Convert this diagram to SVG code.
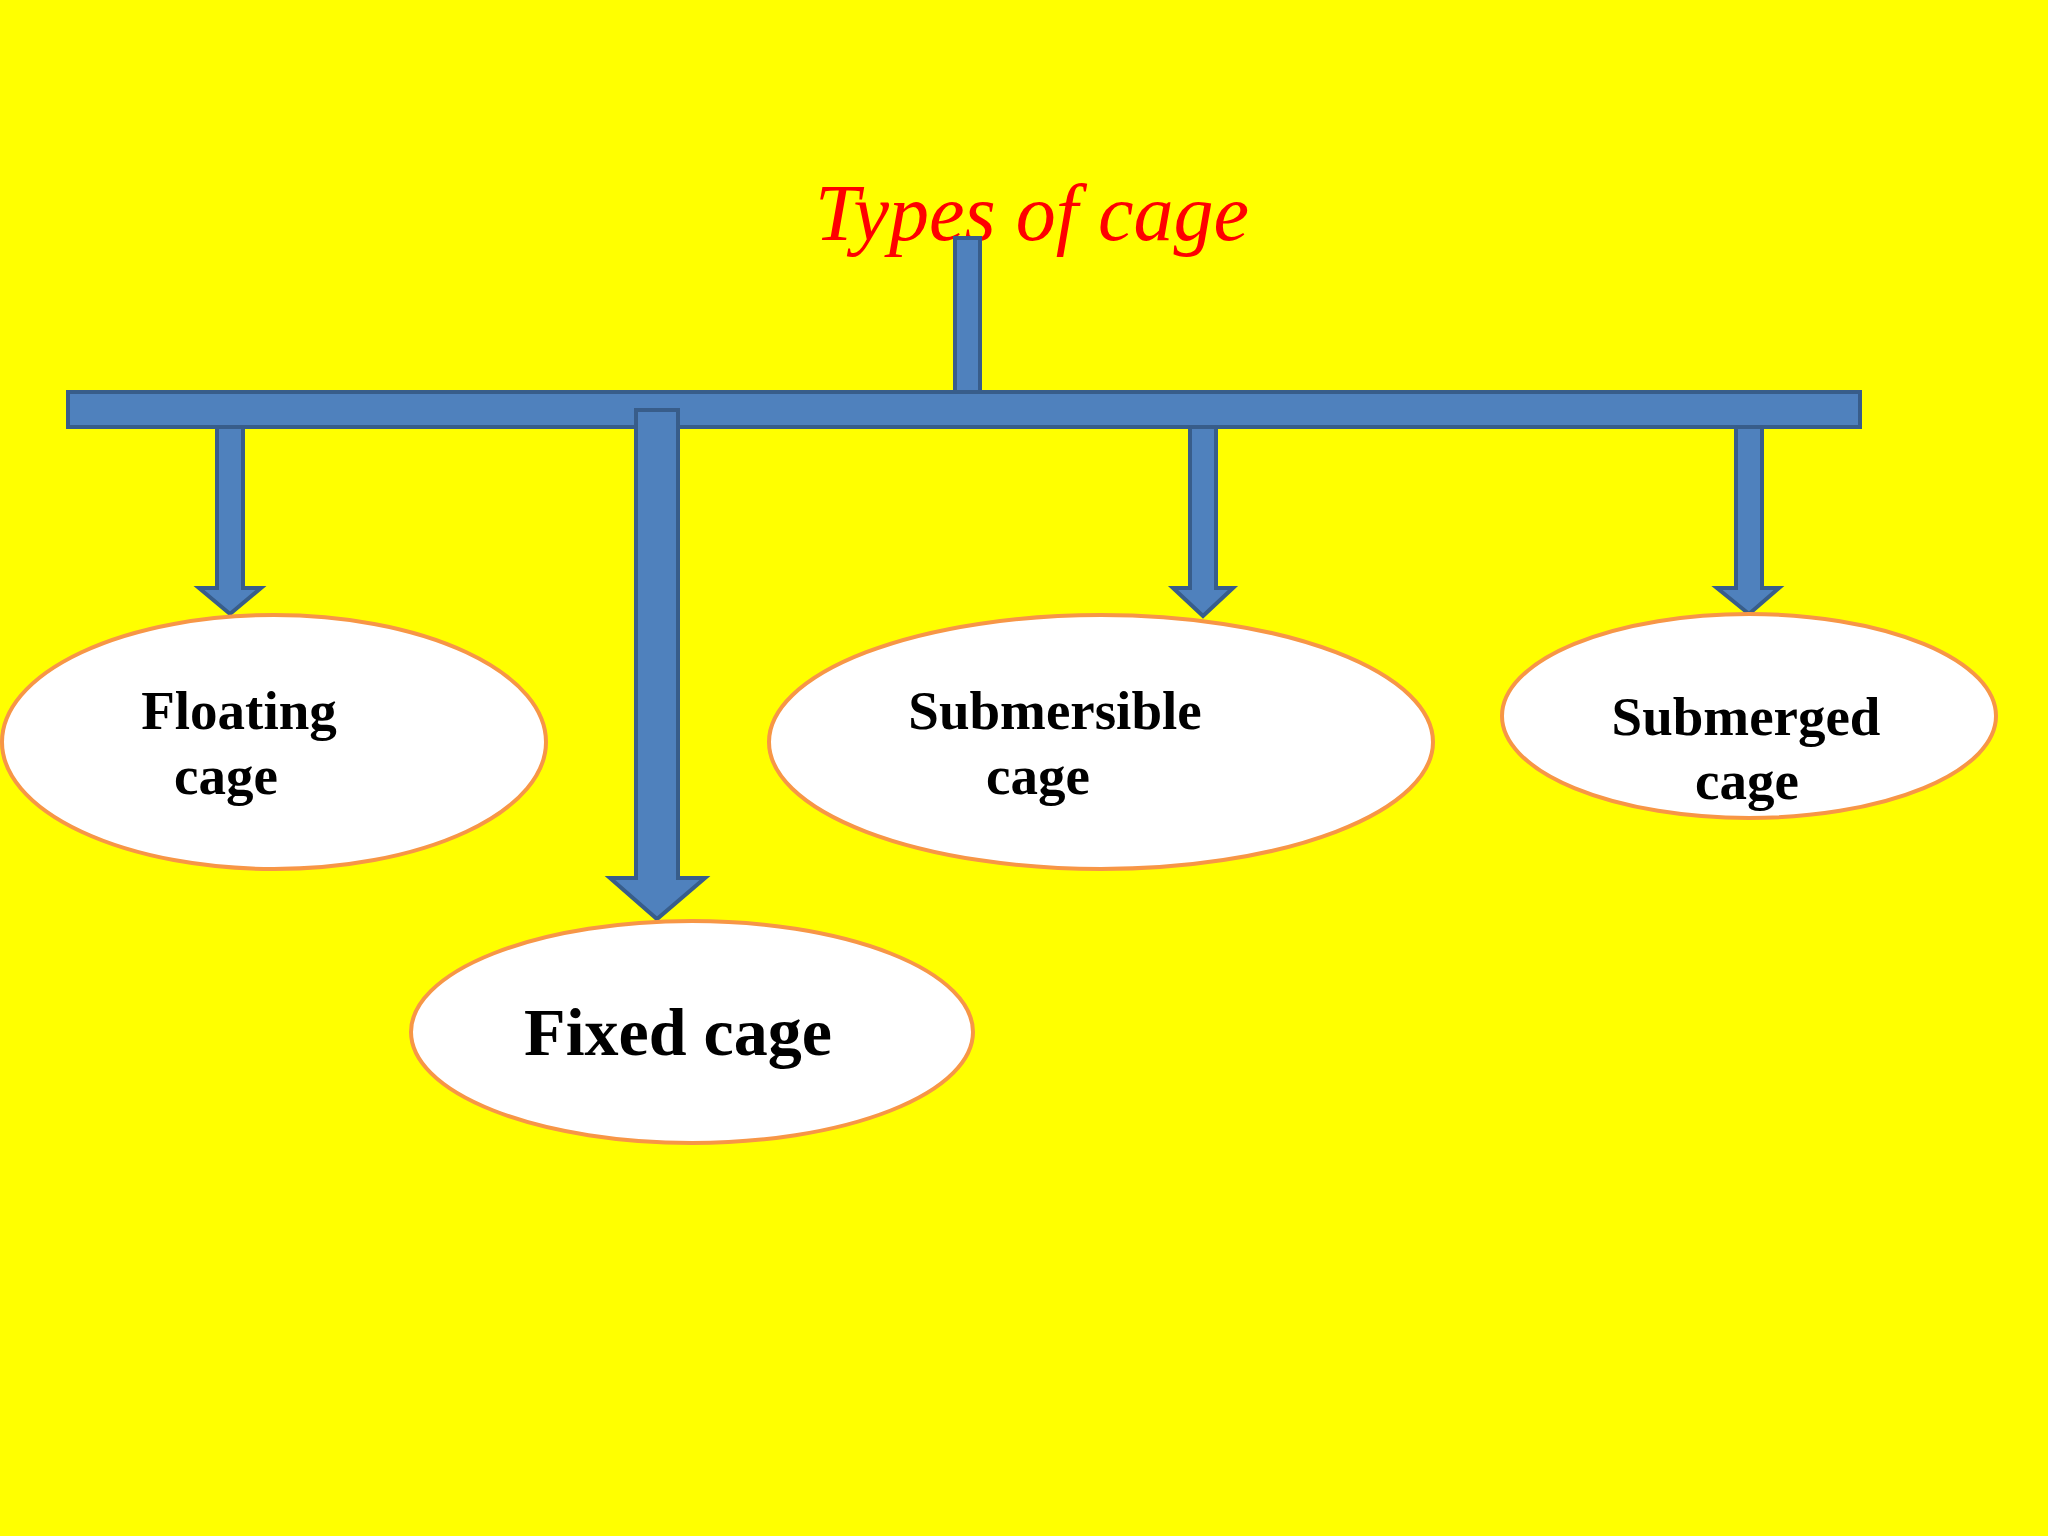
<svg xmlns="http://www.w3.org/2000/svg" width="2048" height="1536" viewBox="0 0 2048 1536">
<style>
.b{fill:#4F81BD;stroke:#385D8A;stroke-width:4}
.e{fill:#fff;stroke:#F79646;stroke-width:4}
.t{font-family:"Liberation Serif",serif;font-weight:bold;fill:#000;text-anchor:middle}
</style>
<rect width="2048" height="1536" fill="#FFFF00"/>
<text x="1032" y="240" font-family="Liberation Serif,serif" font-style="italic" font-size="80" fill="#FF0000" text-anchor="middle">Types of cage</text>
<g id="connectors">
<rect class="b" x="955" y="238" width="25" height="154"/>
<rect class="b" x="68" y="392" width="1792" height="35"/>
<path class="b" d="M217 427H243V588H261L230 614L199 588H217Z"/>
<path class="b" d="M636 410H678V878H705L657 919L610 878H636Z"/>
<path class="b" d="M1190 427H1216V588H1233L1203 616L1173 588H1190Z"/>
<path class="b" d="M1736 427H1762V588H1779L1749 614L1717 588H1736Z"/>
</g>
<g id="floating"><ellipse class="e" cx="274" cy="742" rx="272" ry="127"/>
<text class="t" font-size="55" x="239" y="729">Floating</text><text class="t" font-size="55" x="226" y="794">cage</text></g>
<g id="fixed"><ellipse class="e" cx="692" cy="1032" rx="281" ry="111"/>
<text class="t" font-size="68" x="678" y="1055">Fixed cage</text></g>
<g id="submersible"><ellipse class="e" cx="1101" cy="742" rx="332" ry="127"/>
<text class="t" font-size="55" x="1055" y="729">Submersible</text><text class="t" font-size="55" x="1038" y="794">cage</text></g>
<g id="submerged"><ellipse class="e" cx="1749" cy="716" rx="247" ry="102"/>
<text class="t" font-size="55" x="1746" y="735">Submerged</text><text class="t" font-size="55" x="1747" y="799">cage</text></g>
</svg>
